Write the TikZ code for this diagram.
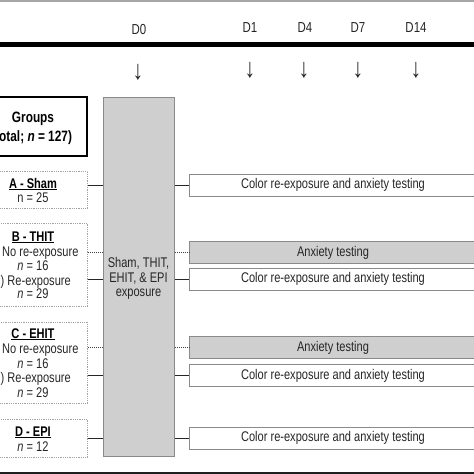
\documentclass[tikz,border=0pt]{standalone}
\usepackage{fontspec}
\setmainfont{Liberation Sans}[FakeStretch=0.79]
\definecolor{txt}{HTML}{262626}
\definecolor{boxgray}{HTML}{CFCFCF}
\definecolor{edge}{HTML}{8A8A8A}
\begin{document}
\begin{tikzpicture}[x=1pt,y=-1pt,
  font=\fontsize{14}{14.5}\selectfont,
  every node/.style={text=txt},
  grpbox/.style={draw=edge!80, densely dotted, line width=0.8pt, anchor=north west, inner sep=0pt},
  titlebox/.style={draw=black, line width=1.6pt, anchor=north west, inner sep=0pt},
  expbox/.style={draw=edge, fill=boxgray, line width=0.9pt, anchor=north west, inner sep=0pt},
  actbox/.style={draw=edge, fill=white, line width=1.1pt, anchor=north west, inner sep=0pt, minimum width=287pt, minimum height=22pt},
  actgray/.style={actbox, fill=boxgray},
  lbl/.style={anchor=base, inner sep=0pt},
  lblw/.style={anchor=base west, inner sep=0pt},
  conn/.style={line width=1.3pt, draw=black!85},
  dconn/.style={line width=1pt, draw=black!75, densely dotted},
  day/.style={anchor=base, inner sep=0pt, text=black!85, font=\fontsize{14.5}{14.5}\selectfont},
  arr/.style={anchor=center, inner sep=0pt, text=black!85, font=\fontsize{27}{27}\selectfont}
]
\useasboundingbox (0,0) rectangle (474,474);
\clip (0,0) rectangle (474,474);
% frame lines
\fill[black!35] (0,0) rectangle (474,2);
\fill[black] (0,42) rectangle (474,46.5);
\fill[black!88] (0,471.5) rectangle (474,474);
% day labels
\node[day] (d0) at (139,34) {D0};
\node[day] (d1) at (250,32) {D1};
\node[day] (d4) at (305,32) {D4};
\node[day] (d7) at (358,32) {D7};
\node[day] (d14) at (416,32) {D14};
\node[arr] (a0) at (138,72) {↓};
\node[arr] (a1) at (250,70) {↓};
\node[arr] (a4) at (304,70) {↓};
\node[arr] (a7) at (358,70) {↓};
\node[arr] (a14) at (416,70) {↓};
% groups title
\node[titlebox, minimum width=106pt, minimum height=59pt] (gt) at (-20,96) {};
\node[lbl, text=black, font=\fontsize{15}{15}\selectfont] (gt1) at (33,122.5) {\textbf{Groups}};
\node[lblw, text=black, font=\fontsize{15}{15}\selectfont] (gt2) at (-1,141.5) {\textbf{otal; \textit{n} = 127)}};
% exposure box
\node[expbox, minimum width=71pt, minimum height=359pt] (exp) at (103,97) {};
\node[lbl] (e1) at (138.5,267) {Sham, THIT,};
\node[lbl] (e2) at (138.5,282) {EHIT, \& EPI};
\node[lbl] (e3) at (138.5,296) {exposure};
% group A
\node[grpbox, minimum width=107pt, minimum height=37pt] (gA) at (-20,171) {};
\node[lbl, text=black] (tA1) at (33,188) {\underline{\textbf{A - Sham}}};
\node[lbl] (tA2) at (33,202) {n = 25};
% group B
\node[grpbox, minimum width=107pt, minimum height=83pt] (gB) at (-20,223) {};
\node[lbl, text=black] (tB1) at (33,241) {\underline{\textbf{B - THIT}}};
\node[lblw] (tB2) at (2,256) {No re-exposure};
\node[lbl] (tB3) at (33,270) {\textit{n} = 16};
\node[lblw] (tB4) at (0.5,285) {) Re-exposure};
\node[lbl] (tB5) at (33,298) {\textit{n} = 29};
% group C
\node[grpbox, minimum width=107pt, minimum height=81pt] (gC) at (-20,322) {};
\node[lbl, text=black] (tC1) at (33,338) {\underline{\textbf{C - EHIT}}};
\node[lblw] (tC2) at (2,353) {No re-exposure};
\node[lbl] (tC3) at (33,368) {\textit{n} = 16};
\node[lblw] (tC4) at (0.5,382) {) Re-exposure};
\node[lbl] (tC5) at (33,397) {\textit{n} = 29};
% group D
\node[grpbox, minimum width=107pt, minimum height=38pt] (gD) at (-20,419) {};
\node[lbl, text=black] (tD1) at (33,436) {\underline{\textbf{D - EPI}}};
\node[lbl] (tD2) at (33,451) {\textit{n} = 12};
% activity boxes
\node[actbox] (rA) at (189,174) {};
\node (rAt) at (333,185) {Color re-exposure and anxiety testing};
\node[actgray] (rB1) at (189,241) {};
\node (rB1t) at (333,252.5) {Anxiety testing};
\node[actbox] (rB2) at (189,268) {};
\node (rB2t) at (333,279) {Color re-exposure and anxiety testing};
\node[actgray] (rC1) at (189,336) {};
\node (rC1t) at (333,347.5) {Anxiety testing};
\node[actbox] (rC2) at (189,364) {};
\node (rC2t) at (333,375.5) {Color re-exposure and anxiety testing};
\node[actbox] (rD) at (189,427) {};
\node (rDt) at (333,438) {Color re-exposure and anxiety testing};
% connectors
\draw[conn] (gA.east |- rA.west) -- (exp.west |- rA.west);
\draw[conn] (exp.east |- rA.west) -- (rA.west);
\draw[dconn] (gB.east |- rB1.west) -- (exp.west |- rB1.west);
\draw[dconn] (exp.east |- rB1.west) -- (rB1.west);
\draw[conn] (gB.east |- rB2.west) -- (exp.west |- rB2.west);
\draw[conn] (exp.east |- rB2.west) -- (rB2.west);
\draw[dconn] (gC.east |- rC1.west) -- (exp.west |- rC1.west);
\draw[dconn] (exp.east |- rC1.west) -- (rC1.west);
\draw[conn] (gC.east |- rC2.west) -- (exp.west |- rC2.west);
\draw[conn] (exp.east |- rC2.west) -- (rC2.west);
\draw[conn] (gD.east |- rD.west) -- (exp.west |- rD.west);
\draw[conn] (exp.east |- rD.west) -- (rD.west);
\end{tikzpicture}
\end{document}
